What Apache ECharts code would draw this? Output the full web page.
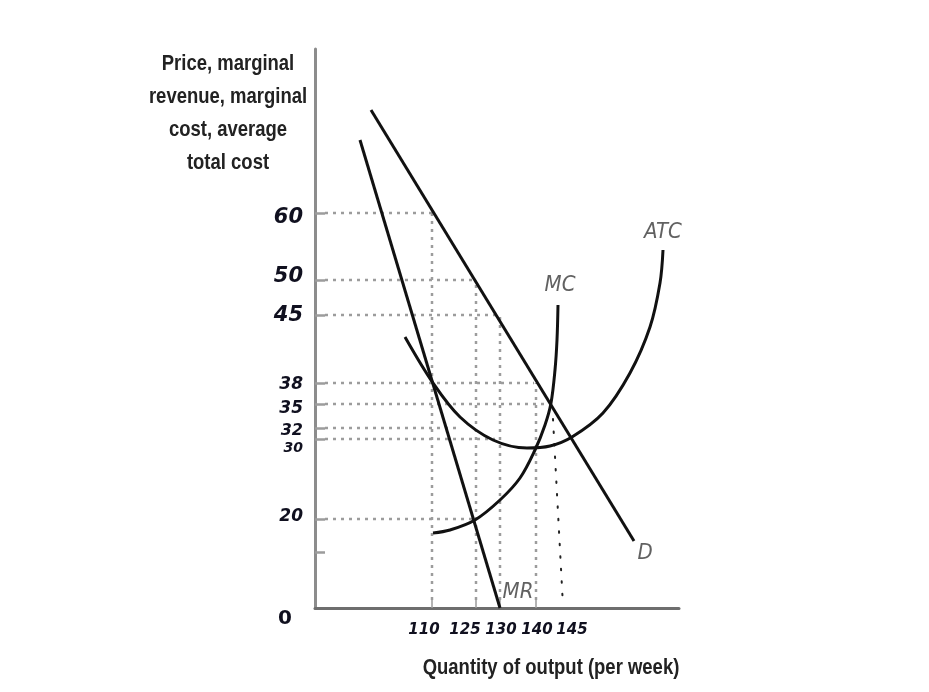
<!DOCTYPE html>
<html>
<head>
<meta charset="utf-8">
<script src="https://cdn.jsdelivr.net/npm/echarts@6/dist/echarts.min.js"></script>
<style>
  html, body { margin: 0; padding: 0; background: #fff; }
  #chart { width: 929px; height: 692px; }
</style>
</head>
<body>
<div id="chart"></div>
<script>
// Diagram units: the drawing is not to scale, so both axes run in plain
// diagram units and the printed values sit at their own tick positions.
var yTickLabels = ["60", "50", "45", "38", "35", "32", "30", "20", "", "0"];
var yTickAt = [395, 328, 293, 225, 204, 180, 169, 89, 56, 0];
var xTickLabels = ["110", "125", "130", "140", "145"];
var xTickAt = [117, 161, 185, 221, 248];

// curves, [quantity, price] in diagram units
var demand = [[56, 498], [319, 67]];
var marginalRevenue = [[45, 468], [185, 0]];
var marginalCost = [
  [118, 75], [135, 78], [160, 88], [185, 108], [205, 130], [220, 158],
  [230, 183], [236, 205], [240, 238], [242, 268], [243, 303]
];
var averageTotalCost = [
  [90, 271], [118, 225], [145, 191], [178, 168], [212, 160], [235, 162],
  [257, 171], [288, 195], [315, 235], [335, 281], [345, 325], [348, 358]
];

// dotted guides: horizontal [price level, end quantity], vertical [quantity, top price]
var hGuides = [[395, 117], [328, 161], [293, 185], [225, 219], [204, 232], [180, 145], [169, 180], [89, 161]];
var vGuides = [[117, 395], [161, 328], [185, 293], [221, 225]];
var guide145 = [[238, 189], [248, 2]];

var myChart = echarts.init(document.getElementById("chart"));

var titleFont = "'Liberation Sans', Arial, sans-serif";
var curveFont = "'DejaVu Sans Condensed', 'DejaVu Sans', sans-serif";
var tickFont = "'DejaVu Sans', sans-serif";

// per-label look of the tick labels (size and small nudges as in the drawing)
var yLook = [
  { size: 21, dy: 5 }, { size: 21, dy: -3 }, { size: 21, dy: 1 },
  { size: 17, dy: 2 }, { size: 17, dy: 5 }, { size: 16, dy: 3 },
  { size: 14, dy: 9 }, { size: 17, dy: -2 }, { size: 12, dy: 0 },
  { size: 20, dy: 11, dx: -11, upright: true }
];
var xLook = [{ dx: -8 }, { dx: -11 }, { dx: 1 }, { dx: 1 }, { dx: 9 }];

var yRich = {};
yLook.forEach(function (l, i) {
  var dx = l.dx || 0;
  yRich["l" + i] = {
    fontFamily: tickFont,
    fontSize: l.size,
    fontWeight: "bold",
    fontStyle: l.upright ? "normal" : "italic",
    color: "#10101f",
    padding: [Math.max(0, 2 * l.dy), Math.max(0, -dx), Math.max(0, -2 * l.dy), 0]
  };
});
var xRich = {};
xLook.forEach(function (l, i) {
  xRich["l" + i] = {
    fontFamily: tickFont,
    fontSize: 15,
    fontWeight: "bold",
    fontStyle: "italic",
    color: "#10101f",
    padding: [0, Math.max(0, -2 * l.dx), 0, Math.max(0, 2 * l.dx)]
  };
});

var guideStyle = { color: "#9c9c9c", width: 2.5, type: [3, 5], cap: "butt" };
var curveStyle = { color: "#111", width: 3 };

var series = [];
hGuides.forEach(function (g) {
  series.push({ type: "line", data: [[10, g[0]], [g[1], g[0]]], symbol: "none", lineStyle: guideStyle, silent: true, z: 1 });
});
vGuides.forEach(function (g) {
  series.push({ type: "line", data: [[g[0], 8], [g[0], g[1]]], symbol: "none", lineStyle: guideStyle, silent: true, z: 1 });
});
series.push({
  type: "line", data: guide145, symbol: "none", silent: true, z: 1,
  lineStyle: { color: "#222", width: 2, type: [1.5, 11], cap: "round" }
});

[
  { name: "D", data: demand },
  { name: "MR", data: marginalRevenue },
  { name: "MC", data: marginalCost, smooth: 0.35 },
  { name: "ATC", data: averageTotalCost, smooth: 0.35 }
].forEach(function (c) {
  series.push({
    name: c.name, type: "line", data: c.data, smooth: c.smooth || false,
    symbol: "none", lineStyle: curveStyle, z: 3
  });
});

// curve names, placed at the end of each curve
var nameOffsets = { ATC: [0, -18], MC: [2, -20], D: [11, 12], MR: [18, -16] };
var curveEnds = { ATC: averageTotalCost, MC: marginalCost, D: demand, MR: marginalRevenue };
series.push({
  type: "scatter", symbolSize: 0, silent: true, z: 4,
  data: Object.keys(curveEnds).map(function (k) {
    var pts = curveEnds[k];
    return {
      value: pts[pts.length - 1], name: k,
      label: {
        show: true, position: "inside", offset: nameOffsets[k], formatter: k,
        fontFamily: curveFont, fontStyle: "italic", fontSize: 22, color: "#3a3a3a"
      }
    };
  })
});

var option = {
  animation: false,
  backgroundColor: "#fff",
  grid: { left: 315, top: 49, width: 364, height: 559 },
  xAxis: {
    type: "value", min: 0, max: 364,
    axisLine: { onZero: false, lineStyle: { color: "#6e6e6e", width: 3 } },
    axisTick: { show: true, inside: true, length: 8, customValues: xTickAt.slice(0, 4), lineStyle: { color: "#9c9c9c", width: 1.5 } },
    axisLabel: {
      customValues: xTickAt, margin: 15, hideOverlap: false,
      formatter: function (v) {
        var i = xTickAt.indexOf(v);
        return "{l" + i + "|" + xTickLabels[i] + "}";
      },
      rich: xRich
    },
    splitLine: { show: false }
  },
  yAxis: {
    type: "value", min: 0, max: 559,
    axisLine: { show: true, onZero: false, lineStyle: { color: "#8c8c8c", width: 3 } },
    axisTick: { show: true, inside: true, length: 10, customValues: yTickAt.slice(0, 9), lineStyle: { color: "#9c9c9c", width: 2.5 } },
    axisLabel: {
      customValues: yTickAt, margin: 12, hideOverlap: false,
      formatter: function (v) {
        var i = yTickAt.indexOf(v);
        return "{l" + i + "|" + yTickLabels[i] + "}";
      },
      rich: yRich
    },
    splitLine: { show: false }
  },
  graphic: [
    {
      type: "text", x: 228, y: 47, scaleX: 0.84,
      style: {
        text: "Price, marginal\nrevenue, marginal\ncost, average\ntotal cost",
        align: "center", verticalAlign: "top", lineHeight: 33,
        fontFamily: titleFont, fontWeight: "bold", fontSize: 22, fill: "#222"
      }
    },
    {
      type: "text", x: 551, y: 668, scaleX: 0.84,
      style: {
        text: "Quantity of output (per week)",
        align: "center", verticalAlign: "middle",
        fontFamily: titleFont, fontWeight: "bold", fontSize: 22, fill: "#222"
      }
    }
  ],
  series: series
};

myChart.setOption(option);
</script>
</body>
</html>
